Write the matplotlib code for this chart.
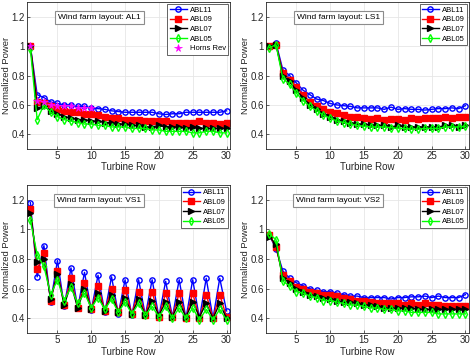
import numpy as np
import matplotlib
matplotlib.use("Agg")
import matplotlib.pyplot as plt

plt.rcParams['font.family'] = ['Liberation Sans', 'DejaVu Sans']

rows = np.arange(1, 31)
series_names = ['ABL11', 'ABL09', 'ABL07', 'ABL05']

# AL1
al1_abl11 = [1.0, 0.67, 0.65, 0.62, 0.61, 0.60, 0.60, 0.59, 0.59, 0.58, 0.575, 0.57, 0.56, 0.555, 0.55,
             0.55, 0.55, 0.55, 0.55, 0.54, 0.535, 0.54, 0.54, 0.55, 0.55, 0.55, 0.55, 0.55, 0.55, 0.56]
al1_abl09 = [1.0, 0.62, 0.61, 0.59, 0.57, 0.56, 0.55, 0.55, 0.54, 0.54, 0.53, 0.52, 0.51, 0.51, 0.50,
             0.50, 0.50, 0.49, 0.49, 0.49, 0.49, 0.48, 0.48, 0.48, 0.48, 0.49, 0.48, 0.48, 0.47, 0.48]
al1_abl07 = [1.0, 0.58, 0.59, 0.56, 0.54, 0.52, 0.51, 0.50, 0.50, 0.49, 0.49, 0.48, 0.48, 0.47, 0.47,
             0.46, 0.46, 0.45, 0.45, 0.46, 0.45, 0.45, 0.45, 0.44, 0.45, 0.44, 0.44, 0.44, 0.44, 0.44]
al1_abl05 = [0.98, 0.50, 0.60, 0.55, 0.52, 0.50, 0.49, 0.48, 0.47, 0.47, 0.46, 0.46, 0.45, 0.45, 0.45,
             0.44, 0.44, 0.44, 0.43, 0.43, 0.42, 0.42, 0.42, 0.42, 0.41, 0.41, 0.42, 0.42, 0.41, 0.41]
horns_rev = [1.0, 0.63, 0.62, 0.60, 0.59, 0.59, 0.59, 0.58, 0.58, 0.58]

# LS1
ls1_abl11 = [1.0, 1.02, 0.84, 0.80, 0.75, 0.70, 0.67, 0.64, 0.63, 0.61, 0.60, 0.595, 0.59, 0.58, 0.58,
             0.58, 0.58, 0.57, 0.585, 0.57, 0.575, 0.57, 0.57, 0.565, 0.57, 0.575, 0.575, 0.58, 0.575, 0.595]
ls1_abl09 = [1.0, 1.01, 0.82, 0.77, 0.72, 0.67, 0.62, 0.59, 0.57, 0.55, 0.545, 0.53, 0.52, 0.52, 0.51,
             0.505, 0.51, 0.50, 0.505, 0.505, 0.495, 0.51, 0.505, 0.51, 0.51, 0.51, 0.52, 0.51, 0.52, 0.52]
ls1_abl07 = [1.0, 1.01, 0.80, 0.76, 0.70, 0.65, 0.60, 0.57, 0.54, 0.52, 0.50, 0.49, 0.48, 0.47, 0.47,
             0.46, 0.46, 0.46, 0.45, 0.46, 0.45, 0.45, 0.45, 0.45, 0.45, 0.45, 0.46, 0.46, 0.45, 0.46]
ls1_abl05 = [0.99, 1.01, 0.78, 0.74, 0.68, 0.63, 0.59, 0.56, 0.53, 0.51, 0.49, 0.48, 0.47, 0.46, 0.455,
             0.45, 0.45, 0.45, 0.445, 0.44, 0.44, 0.435, 0.435, 0.44, 0.44, 0.44, 0.45, 0.45, 0.45, 0.455]

# VS1
vs1_abl11 = [1.18, 0.68, 0.89, 0.51, 0.79, 0.48, 0.74, 0.47, 0.71, 0.455, 0.69, 0.44, 0.68, 0.43, 0.66,
             0.42, 0.66, 0.42, 0.66, 0.41, 0.65, 0.41, 0.66, 0.40, 0.66, 0.40, 0.67, 0.40, 0.67, 0.45]
vs1_abl09 = [1.14, 0.73, 0.84, 0.52, 0.72, 0.49, 0.67, 0.47, 0.64, 0.46, 0.62, 0.45, 0.60, 0.44, 0.59,
             0.43, 0.58, 0.42, 0.58, 0.41, 0.57, 0.41, 0.57, 0.40, 0.57, 0.40, 0.56, 0.40, 0.56, 0.41]
vs1_abl07 = [1.11, 0.78, 0.80, 0.53, 0.70, 0.49, 0.63, 0.47, 0.60, 0.46, 0.57, 0.45, 0.56, 0.44, 0.54,
             0.43, 0.53, 0.42, 0.52, 0.42, 0.51, 0.41, 0.51, 0.41, 0.51, 0.41, 0.50, 0.40, 0.50, 0.40]
vs1_abl05 = [1.06, 0.83, 0.75, 0.56, 0.66, 0.52, 0.61, 0.50, 0.57, 0.47, 0.54, 0.46, 0.53, 0.44, 0.51,
             0.43, 0.50, 0.42, 0.48, 0.41, 0.48, 0.40, 0.47, 0.40, 0.47, 0.39, 0.46, 0.39, 0.46, 0.39]

# VS2
vs2_abl11 = [0.96, 0.87, 0.72, 0.67, 0.64, 0.62, 0.60, 0.59, 0.58, 0.58, 0.57, 0.56, 0.55, 0.55, 0.54,
             0.54, 0.54, 0.54, 0.53, 0.54, 0.54, 0.545, 0.545, 0.55, 0.54, 0.55, 0.54, 0.54, 0.54, 0.56]
vs2_abl09 = [0.96, 0.88, 0.69, 0.65, 0.61, 0.60, 0.58, 0.57, 0.56, 0.56, 0.55, 0.54, 0.53, 0.52, 0.52,
             0.51, 0.50, 0.50, 0.50, 0.50, 0.49, 0.50, 0.49, 0.50, 0.49, 0.49, 0.48, 0.48, 0.48, 0.48]
vs2_abl07 = [0.95, 0.90, 0.67, 0.64, 0.60, 0.58, 0.56, 0.55, 0.54, 0.53, 0.52, 0.51, 0.51, 0.50, 0.49,
             0.49, 0.48, 0.47, 0.47, 0.47, 0.47, 0.47, 0.46, 0.46, 0.46, 0.46, 0.46, 0.46, 0.46, 0.46]
vs2_abl05 = [0.97, 0.93, 0.65, 0.62, 0.58, 0.57, 0.55, 0.54, 0.52, 0.52, 0.51, 0.50, 0.49, 0.49, 0.48,
             0.47, 0.47, 0.46, 0.46, 0.45, 0.45, 0.44, 0.44, 0.44, 0.44, 0.43, 0.43, 0.43, 0.43, 0.43]

panels = [
    ('AL1', [al1_abl11, al1_abl09, al1_abl07, al1_abl05]),
    ('LS1', [ls1_abl11, ls1_abl09, ls1_abl07, ls1_abl05]),
    ('VS1', [vs1_abl11, vs1_abl09, vs1_abl07, vs1_abl05]),
    ('VS2', [vs2_abl11, vs2_abl09, vs2_abl07, vs2_abl05]),
]

styles = [
    dict(color='#0000ff', marker='o', mfc='none'),
    dict(color='#ff0000', marker='s', mfc='#ff0000'),
    dict(color='#000000', marker='>', mfc='#000000'),
    dict(color='#00ff00', marker='d', mfc='none'),
]

fig = plt.figure(figsize=(4.74, 3.59), dpi=100)
positions = [
    [0.057, 0.585, 0.428, 0.409],
    [0.561, 0.585, 0.428, 0.409],
    [0.057, 0.072, 0.428, 0.413],
    [0.561, 0.072, 0.428, 0.413],
]

for pos, (layout, data) in zip(positions, panels):
    ax = fig.add_axes(pos)
    for name, vals, st in zip(series_names, data, styles):
        ax.plot(rows, vals, label=name, lw=1.0, ms=3.8, mew=1.0, **st)
    if layout == 'AL1':
        ax.plot(rows[:len(horns_rev)], horns_rev, label='Horns Rev', color='#ff00ff',
                marker='*', ms=5.5, lw=0, mew=0.5)
    ax.set_xlim(0.5, 30.5)
    ax.set_ylim(0.3, 1.3)
    ax.set_xticks([5, 10, 15, 20, 25, 30])
    ax.set_yticks([0.4, 0.6, 0.8, 1.0, 1.2])
    ax.set_yticklabels(['0.4', '0.6', '0.8', '1', '1.2'])
    ax.grid(True, color='#e6e6e6', lw=0.6)
    ax.set_axisbelow(True)
    ax.tick_params(labelsize=7, length=2, width=0.5, direction='in', color='#262626',
                   labelcolor='#262626', pad=1.5)
    for sp in ax.spines.values():
        sp.set_color('#262626')
        sp.set_linewidth(0.6)
    ax.set_xlabel('Turbine Row', fontsize=7, color='#262626', labelpad=1)
    ax.set_ylabel('Normalized Power', fontsize=6.8, color='#262626', labelpad=0.5)
    ax.text(0.357, 0.895, 'Wind farm layout: ' + layout, transform=ax.transAxes,
            ha='center', va='center', fontsize=6,
            bbox=dict(boxstyle='square,pad=0.35', fc='white', ec='#8c8c8c', lw=0.8))
    leg = ax.legend(loc='upper right', fontsize=5.5, handlelength=2.2, handletextpad=0.4,
                    borderpad=0.3, labelspacing=0.3, borderaxespad=0.25, fancybox=False,
                    framealpha=1, edgecolor='#262626')
    leg.get_frame().set_linewidth(0.5)

fig.savefig('out.png', dpi=100)
